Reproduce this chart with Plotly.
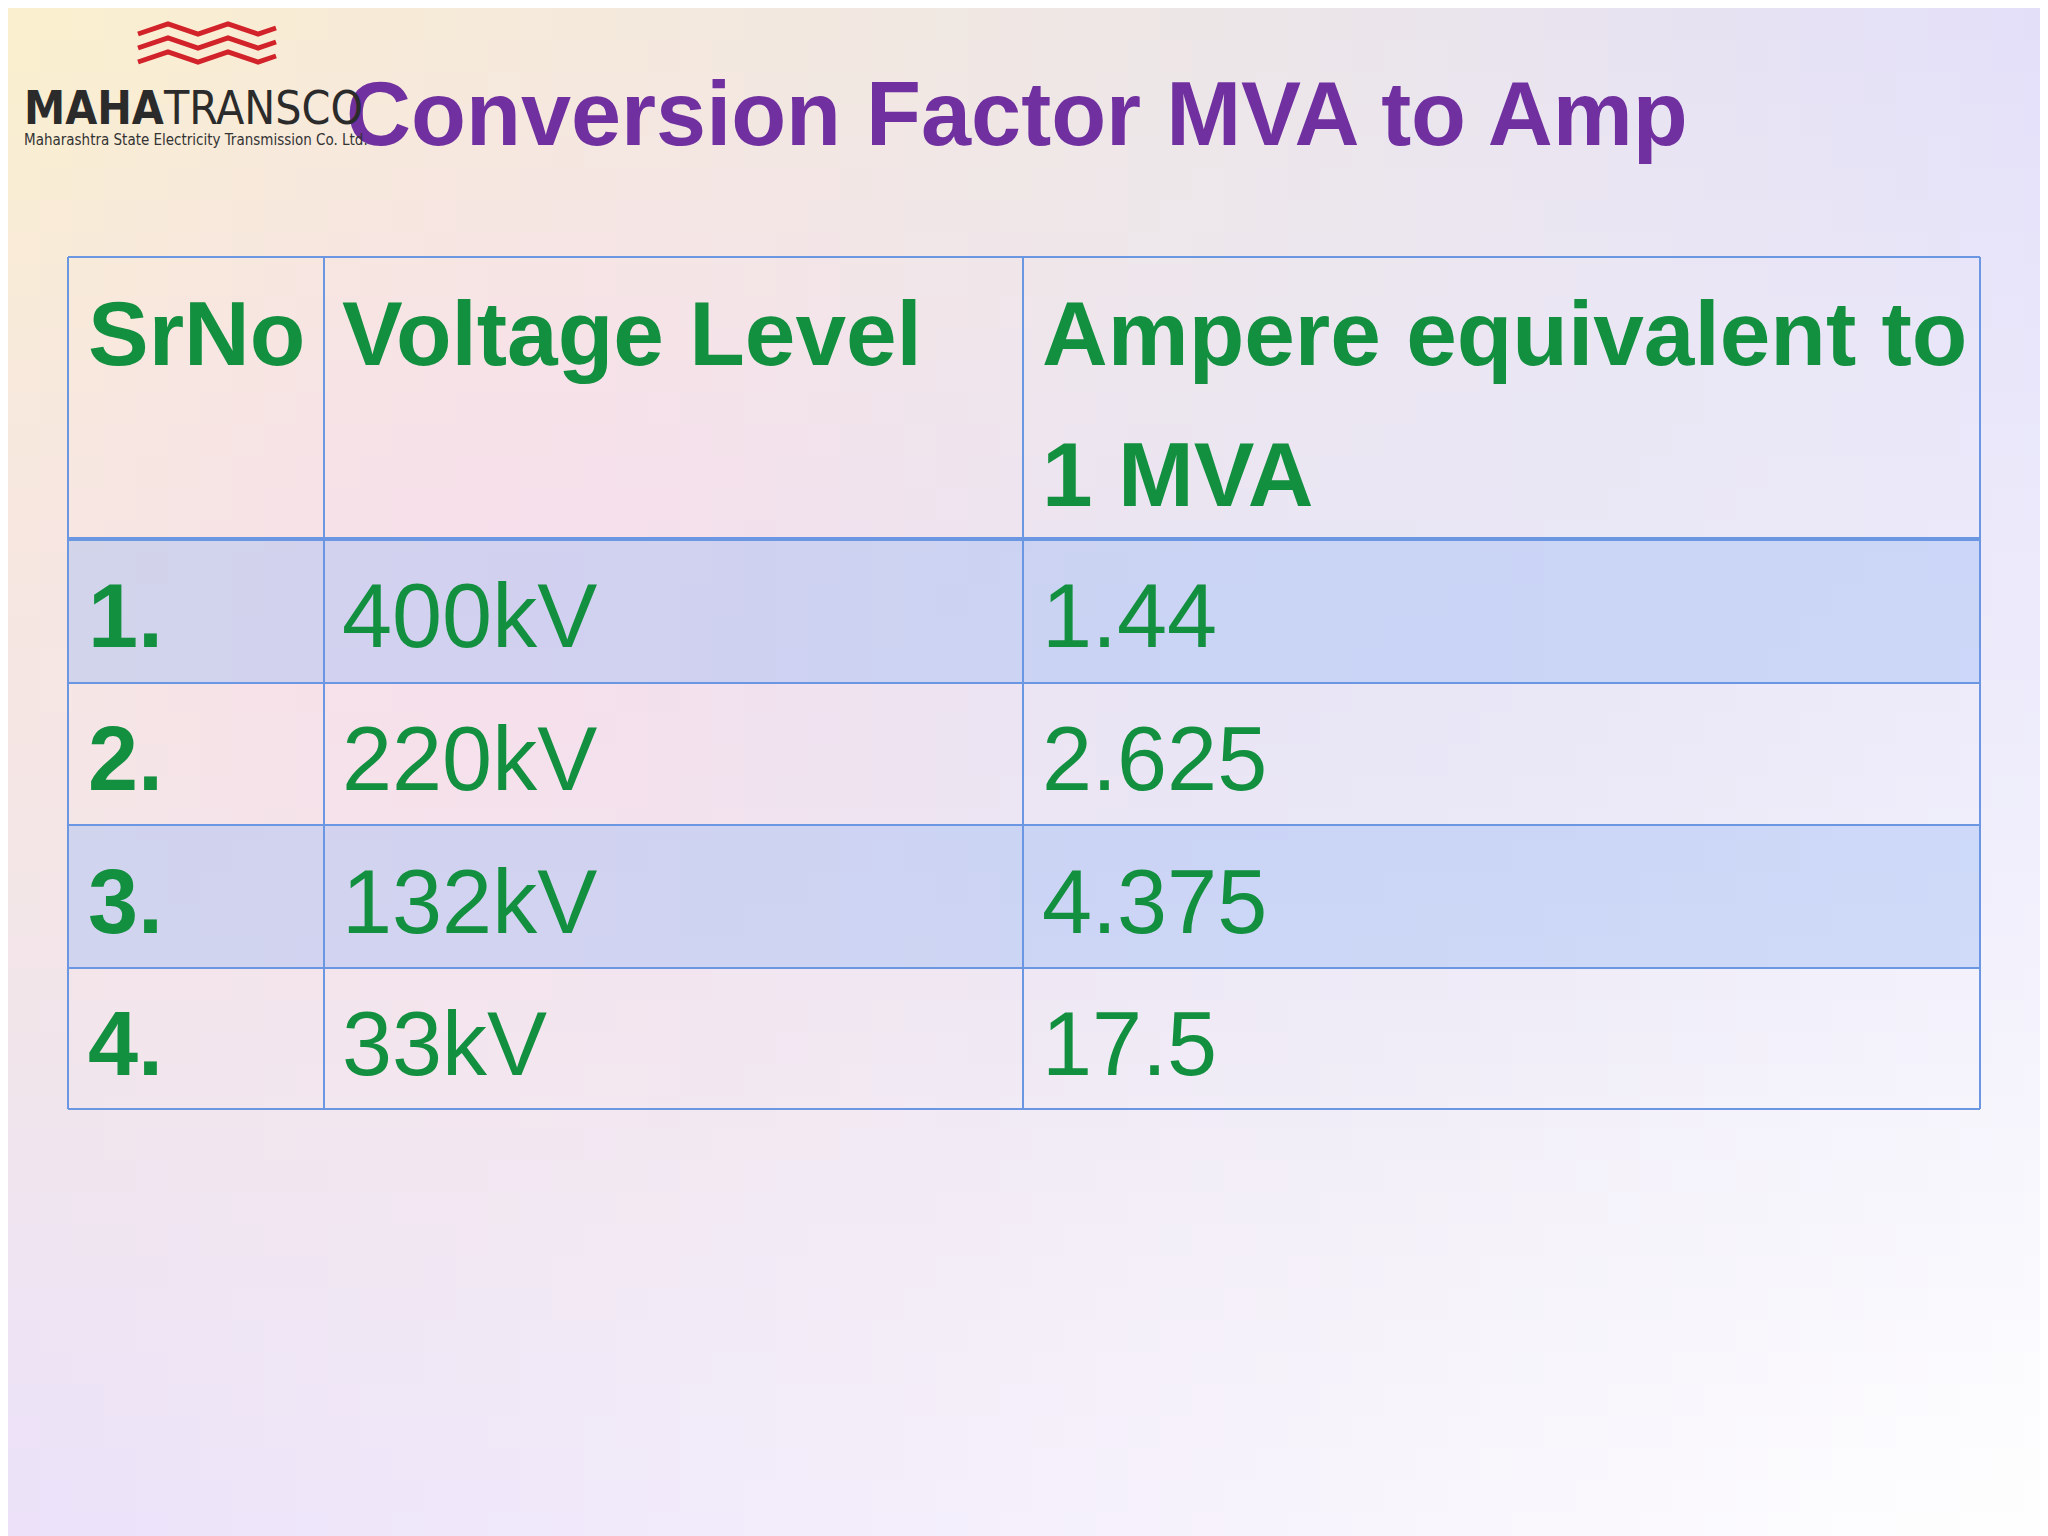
import numpy as np
import plotly.graph_objects as go

# ── Data ──────────────────────────────────────────────────────────────────────
TITLE = "Conversion Factor MVA to Amp"
HEADERS = ["SrNo", "Voltage Level", "Ampere equivalent to", "1 MVA"]
SR_NO = ["1.", "2.", "3.", "4."]
VOLTAGE = ["400kV", "220kV", "132kV", "33kV"]
AMPERE = ["1.44", "2.625", "4.375", "17.5"]

W, H = 2048, 1536
GREEN = "#12903F"
PURPLE = "#7030A0"
BORDER = "#6A96E2"
OFF = -8  # global shift

# ── Background gradient (pastel) ──────────────────────────────────────────────
ny, nx = 48, 64
yy, xx = np.mgrid[0:1:ny * 1j, 0:1:nx * 1j]
tl, tr = np.array([251, 241, 205]), np.array([228, 224, 250])
bl, br = np.array([236, 226, 250]), np.array([255, 255, 255])
img = ((1 - xx)[..., None] * (1 - yy)[..., None] * tl + xx[..., None] * (1 - yy)[..., None] * tr
       + (1 - xx)[..., None] * yy[..., None] * bl + xx[..., None] * yy[..., None] * br)
pink = np.exp(-(((xx - 0.25) / 0.25) ** 2 + ((yy - 0.38) / 0.3) ** 2))[..., None]
img = img * (1 - 0.75 * pink) + np.array([251, 220, 236]) * 0.75 * pink
lav = np.exp(-(((xx - 0.62) / 0.3) ** 2 + ((yy - 0.45) / 0.25) ** 2))[..., None]
img = img * (1 - 0.5 * lav) + np.array([224, 224, 250]) * 0.5 * lav

fig = go.Figure(go.Image(z=img.astype(np.uint8), dx=W / nx, dy=H / ny, x0=W / nx / 2, y0=H / ny / 2,
                         hoverinfo="skip"))

# ── Table geometry ────────────────────────────────────────────────────────────
col_x = [68 + OFF, 324 + OFF, 1023 + OFF, 1980 + OFF]
row_y = [257 + OFF, 539 + OFF, 683 + OFF, 825 + OFF, 968 + OFF, 1109 + OFF]
text_x = [86 + OFF, 340 + OFF, 1040 + OFF]

shapes = []
for i in (0, 2):
    shapes.append(dict(type="rect", x0=col_x[0], x1=col_x[-1], y0=row_y[i + 1], y1=row_y[i + 2],
                       fillcolor="rgba(160,188,245,0.42)", line_width=0, layer="above"))
for x in col_x:
    shapes.append(dict(type="line", x0=x, x1=x, y0=row_y[0], y1=row_y[-1], line=dict(color=BORDER, width=2)))
for j, y in enumerate(row_y):
    shapes.append(dict(type="line", x0=col_x[0], x1=col_x[-1], y0=y, y1=y,
                       line=dict(color=BORDER, width=4 if j == 1 else 2)))

# logo zigzags
for k in range(3):
    yb = 16 + k * 14
    pts = [(130, yb + 10), (160, yb), (190, yb + 10), (220, yb), (250, yb + 10), (268, yb + 4)]
    path = "M " + " L ".join(f"{a},{b}" for a, b in pts)
    shapes.append(dict(type="path", path=path, line=dict(color="#D2232A", width=5)))

ann = []
font_b = "Liberation Sans"
ann.append(dict(x=336, y=106, text=f"<b>{TITLE}</b>", xanchor="left", yanchor="middle",
                font=dict(size=90, color=PURPLE, family=font_b), showarrow=False))
ann.append(dict(x=14, y=100, text="<b>MAHA</b>TRANSCO", xanchor="left", yanchor="middle",
                font=dict(size=46, color="#2B2B2B", family="DejaVu Sans Condensed"), showarrow=False))
ann.append(dict(x=14, y=132, text="Maharashtra State Electricity Transmission Co. Ltd.", xanchor="left",
                yanchor="middle", font=dict(size=15, color="#333", family="DejaVu Sans Condensed"),
                showarrow=False))

hdr_pos = [(text_x[0], 333), (text_x[1], 333), (text_x[2], 333), (text_x[2], 474)]
for (x, y), h in zip(hdr_pos, HEADERS):
    ann.append(dict(x=x, y=y + OFF, text=f"<b>{h}</b>", xanchor="left", yanchor="middle",
                    font=dict(size=91, color=GREEN, family=font_b), showarrow=False))

for i, (s, v, a) in enumerate(zip(SR_NO, VOLTAGE, AMPERE)):
    yc = (row_y[i + 1] + row_y[i + 2]) / 2 + 5
    ann.append(dict(x=text_x[0], y=yc, text=f"<b>{s}</b>", xanchor="left", yanchor="middle",
                    font=dict(size=90, color=GREEN, family=font_b), showarrow=False))
    ann.append(dict(x=text_x[1], y=yc, text=v, xanchor="left", yanchor="middle",
                    font=dict(size=90, color=GREEN, family=font_b), showarrow=False))
    ann.append(dict(x=text_x[2], y=yc, text=a, xanchor="left", yanchor="middle",
                    font=dict(size=90, color=GREEN, family=font_b), showarrow=False))

fig.update_layout(
    width=W, height=H,
    margin=dict(l=0, r=0, t=0, b=0),
    xaxis=dict(range=[0, W], visible=False, fixedrange=True),
    yaxis=dict(range=[H, 0], visible=False, fixedrange=True),
    shapes=shapes, annotations=ann,
    paper_bgcolor="#F3EEF8", plot_bgcolor="white",
)
fig.write_html("out.html")
